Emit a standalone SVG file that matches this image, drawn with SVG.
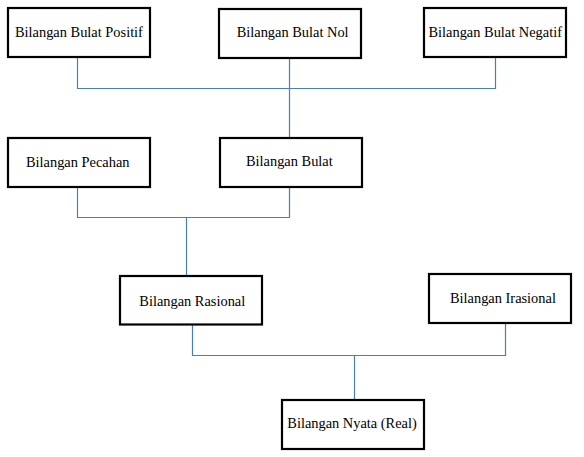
<svg xmlns="http://www.w3.org/2000/svg" width="584" height="457" viewBox="0 0 584 457">
<style>
.box{fill:#fff;stroke:#000;stroke-width:2.2}
.lbl{font-family:"Liberation Serif","Times New Roman",serif;font-size:14.4px;fill:#000}
.con{fill:none;stroke:#4a7ebb;stroke-width:1.2}
</style>
<rect width="584" height="457" fill="#fff"/>
<g id="connectors">
<path class="con" d="M77.5,57 V88.5 H495.5 V57 M289.5,58 V138"/>
<path class="con" d="M77.5,187 V217.5 H289.5 V187 M186.5,217.5 V276"/>
<path class="con" d="M192.5,324 V355.5 H505.5 V323 M354.5,355.5 V400"/>
</g>
<g id="n_positif"><rect class="box" x="8" y="8" width="142" height="49"/><text class="lbl" x="15" y="37">Bilangan Bulat Positif</text></g>
<g id="n_nol"><rect class="box" x="219" y="9" width="142" height="49"/><text class="lbl" x="236.7" y="37">Bilangan Bulat Nol</text></g>
<g id="n_negatif"><rect class="box" x="424" y="8" width="142" height="49"/><text class="lbl" x="428.5" y="37.3">Bilangan Bulat Negatif</text></g>
<g id="n_pecahan"><rect class="box" x="8" y="138" width="142" height="49"/><text class="lbl" x="26" y="166.7">Bilangan Pecahan</text></g>
<g id="n_bulat"><rect class="box" x="220" y="138" width="142" height="49"/><text class="lbl" x="246" y="165.7">Bilangan Bulat</text></g>
<g id="n_rasional"><rect class="box" x="120" y="276" width="142" height="48.5"/><text class="lbl" x="139.3" y="305.7">Bilangan Rasional</text></g>
<g id="n_irasional"><rect class="box" x="429" y="274" width="142" height="49"/><text class="lbl" x="450" y="303.3">Bilangan Irasional</text></g>
<g id="n_nyata"><rect class="box" x="282" y="400" width="142" height="49"/><text class="lbl" x="287.3" y="428.3">Bilangan Nyata (Real)</text></g>
</svg>
